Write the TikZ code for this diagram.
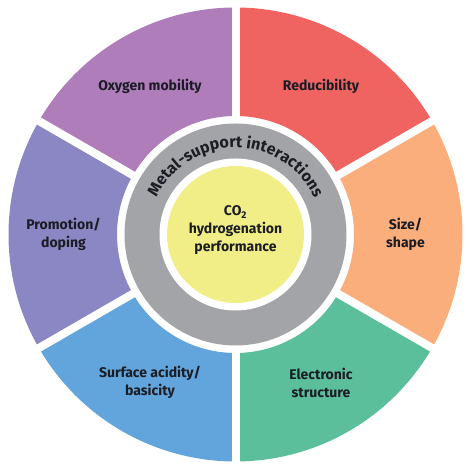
\documentclass[tikz,border=0pt]{standalone}
\usepackage{fontspec}
\setmainfont{Fira Sans}
\usetikzlibrary{decorations.text}
\definecolor{cpurple}{HTML}{AE7DBA}
\definecolor{cred}{HTML}{EF6461}
\definecolor{corange}{HTML}{F9AE7C}
\definecolor{cgreen}{HTML}{5BBF9B}
\definecolor{cblue}{HTML}{62A5DC}
\definecolor{clav}{HTML}{8B87C5}
\definecolor{cgray}{HTML}{A3A4A8}
\definecolor{cyellow}{HTML}{F1EE88}
\definecolor{ctext}{HTML}{1C1C24}
\tikzset{
  seglabel/.style={align=center, text=ctext, font=\fontsize{14}{18}\selectfont\bfseries},
  gapline/.style={white, line width=8pt}
}
\newcommand{\Rin}{118.5}
\newcommand{\Rout}{227}
\newcommand{\sector}[3]{\fill[#3] (#1:\Rin) arc[start angle=#1, end angle=#2, radius=\Rin] -- (#2:\Rout) arc[start angle=#2, end angle=#1, radius=\Rout] -- cycle;}
\begin{document}
\begin{tikzpicture}[x=1pt,y=1pt]
\useasboundingbox[fill=white] (0,0) rectangle (474,470);
\begin{scope}[shift={(235.5,235.5)}]
  \sector{90}{150}{cpurple}
  \sector{30}{90}{cred}
  \sector{-30}{30}{corange}
  \sector{-90}{-30}{cgreen}
  \sector{-150}{-90}{cblue}
  \sector{150}{210}{clav}
  \foreach \a in {90,30,-30,-90,-150,150}
    \draw[gapline] (\a:110) -- (\a:232);
  \fill[cgray] (0,0) circle[radius=111];
  \fill[white] (0,0) circle[radius=76];
  \fill[cyellow] (0,0) circle[radius=68.5];
  \path[decorate, decoration={text along path, text align=center,
      text={|\fontsize{16}{16}\selectfont\bfseries\color{ctext}|Metal-support interactions}}]
      (155:87) arc[start angle=155, end angle=25, radius=87];
  \node[seglabel] (center) at (0,4) {CO\textsubscript{2}\\hydrogenation\\performance};
  \node[seglabel] (oxy) at (120:171) {Oxygen mobility};
  \node[seglabel] (red) at (60:171) {Reducibility};
  \node[seglabel] (size) at (0:170) {Size/\\shape};
  \node[seglabel] (elec) at (-60:171) {Electronic\\structure};
  \node[seglabel] (surf) at (-120:171) {Surface acidity/\\basicity};
  \node[seglabel] (prom) at (180:172) {Promotion/\\doping};
\end{scope}
\end{tikzpicture}
\end{document}
